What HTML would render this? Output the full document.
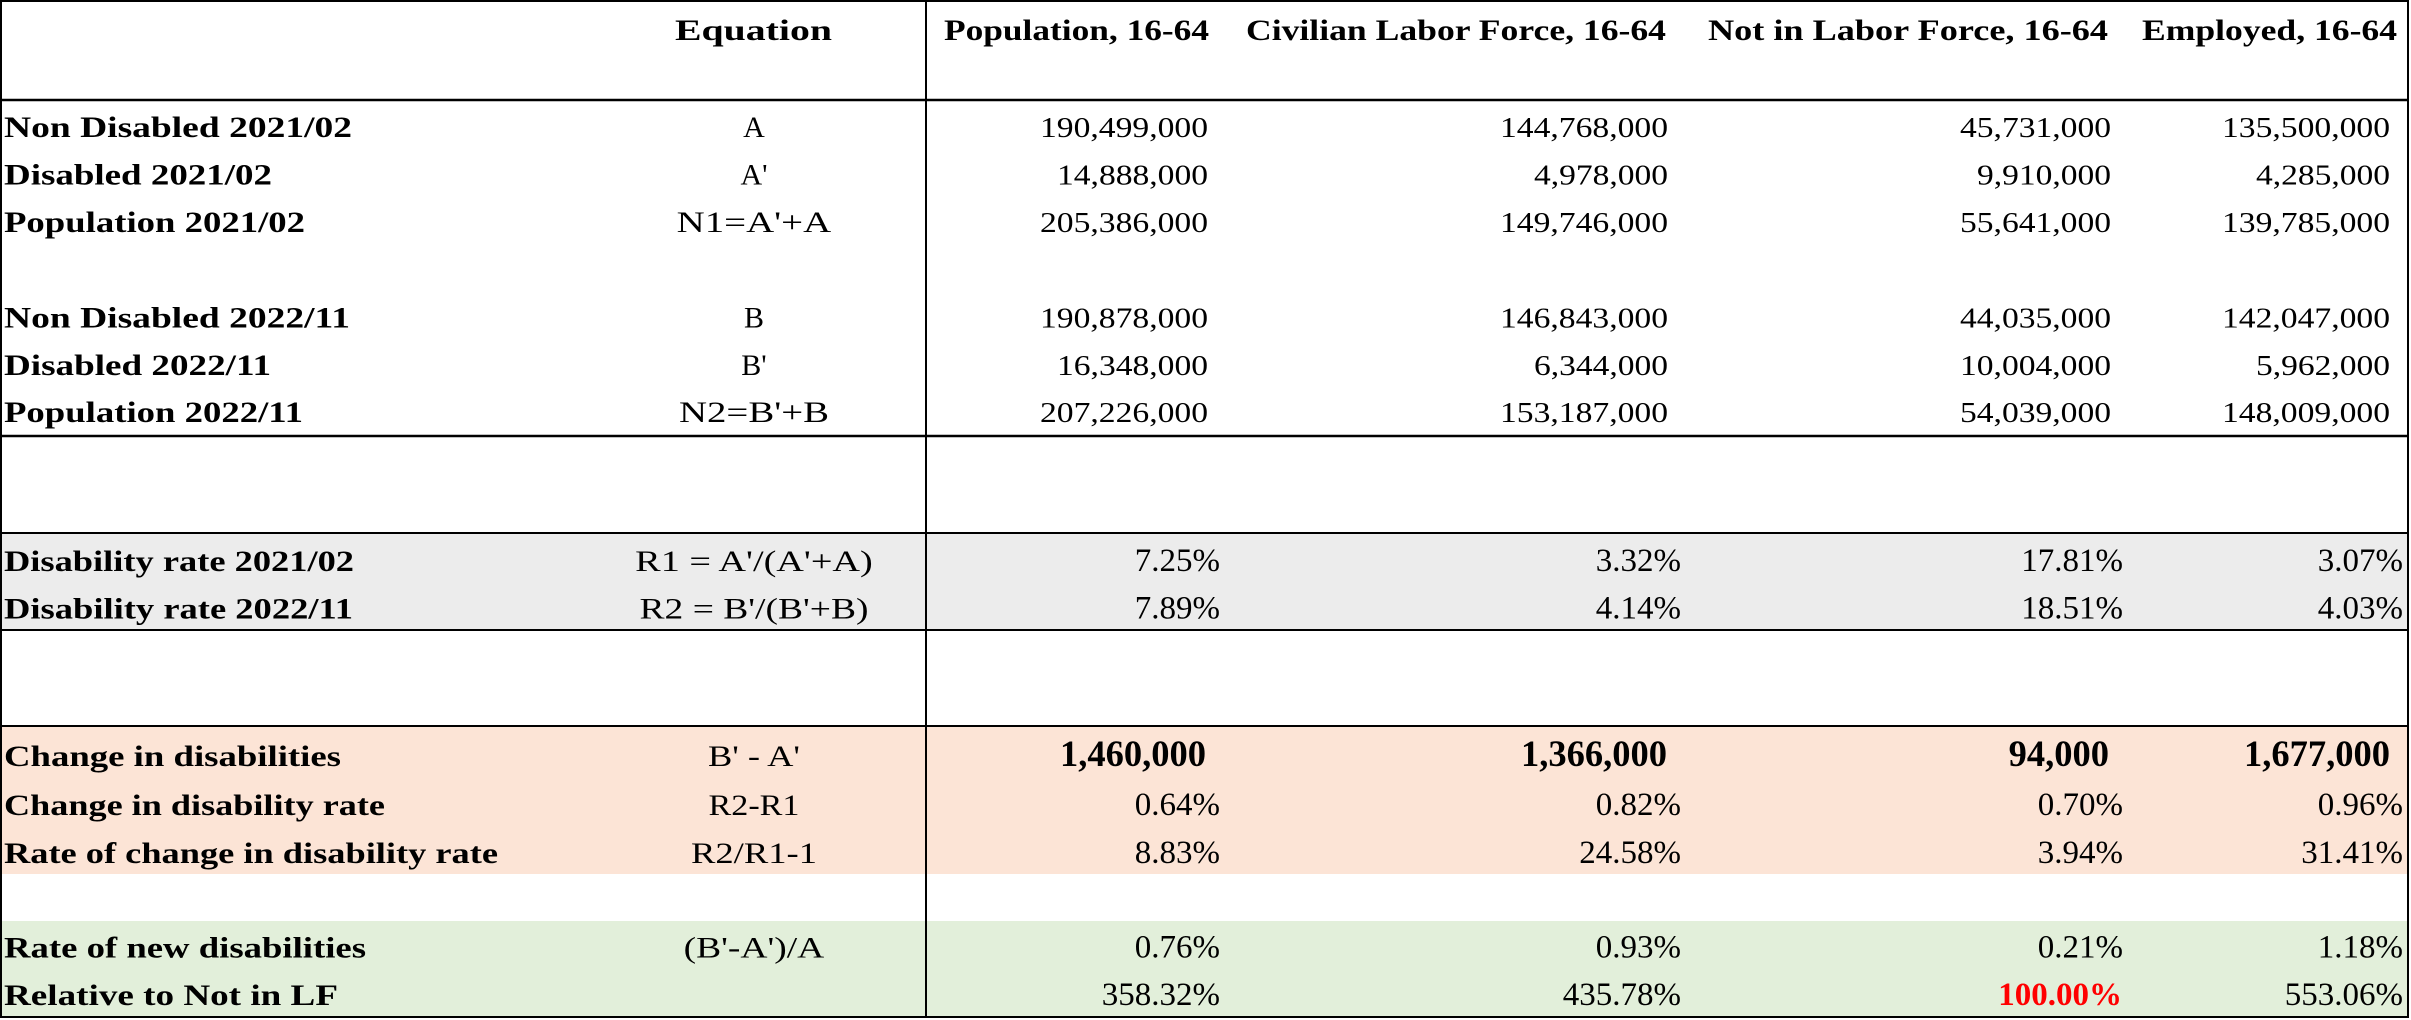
<!DOCTYPE html>
<html>
<head>
<meta charset="utf-8">
<style>
  html, body { margin: 0; padding: 0; background: #ffffff; }
  svg { display: block; }
  text { font-family: "Liberation Serif", serif; fill: #000; }
  .hd { font-weight: bold; font-size: 30px; }
  .lb { font-weight: bold; font-size: 30px; }
  .eq { font-size: 30px; }
  .nm { font-size: 29px; }
  .pc { font-size: 33px; }
  .bn { font-weight: bold; font-size: 36.5px; }
  .rd { font-weight: bold; font-size: 33px; fill: #ff0000; }
</style>
</head>
<body>
<svg width="2411" height="1020" viewBox="0 0 2411 1020" xmlns="http://www.w3.org/2000/svg">
  <rect x="0" y="0" width="2411" height="1020" fill="#ffffff"/>
  <!-- bands -->
  <rect x="0" y="533" width="2408" height="97" fill="#ECECEC"/>
  <rect x="0" y="726" width="2408" height="148" fill="#FCE4D6"/>
  <rect x="0" y="921" width="2408" height="96" fill="#E2EFDA"/>

  <!-- lines -->
  <g stroke="#000" fill="none">
    <rect x="1" y="1" width="2407" height="1016" stroke-width="2"/>
    <line x1="926" y1="0" x2="926" y2="1017" stroke-width="2"/>
    <line x1="0" y1="100" x2="2409" y2="100" stroke-width="2.5"/>
    <line x1="0" y1="436" x2="2409" y2="436" stroke-width="2.5"/>
    <line x1="0" y1="533" x2="2409" y2="533" stroke-width="2"/>
    <line x1="0" y1="630" x2="2409" y2="630" stroke-width="2"/>
    <line x1="0" y1="726" x2="2409" y2="726" stroke-width="2"/>
  </g>

  <!-- headers -->
  <text class="hd" x="675" y="40" textLength="157" lengthAdjust="spacingAndGlyphs">Equation</text>
  <text class="hd" x="944" y="40" textLength="265" lengthAdjust="spacingAndGlyphs">Population, 16-64</text>
  <text class="hd" x="1246" y="40" textLength="420" lengthAdjust="spacingAndGlyphs">Civilian Labor Force, 16-64</text>
  <text class="hd" x="1708" y="40" textLength="400" lengthAdjust="spacingAndGlyphs">Not in Labor Force, 16-64</text>
  <text class="hd" x="2142" y="40" textLength="255" lengthAdjust="spacingAndGlyphs">Employed, 16-64</text>

  <!-- labels -->
  <text class="lb" x="4" y="137" textLength="348" lengthAdjust="spacingAndGlyphs">Non Disabled 2021/02</text>
  <text class="lb" x="4" y="184.5" textLength="268" lengthAdjust="spacingAndGlyphs">Disabled 2021/02</text>
  <text class="lb" x="4" y="232" textLength="301" lengthAdjust="spacingAndGlyphs">Population 2021/02</text>
  <text class="lb" x="4" y="327.5" textLength="346" lengthAdjust="spacingAndGlyphs">Non Disabled 2022/11</text>
  <text class="lb" x="4" y="375" textLength="267" lengthAdjust="spacingAndGlyphs">Disabled 2022/11</text>
  <text class="lb" x="4" y="422" textLength="299" lengthAdjust="spacingAndGlyphs">Population 2022/11</text>
  <text class="lb" x="4" y="571" textLength="350" lengthAdjust="spacingAndGlyphs">Disability rate 2021/02</text>
  <text class="lb" x="4" y="618.5" textLength="349" lengthAdjust="spacingAndGlyphs">Disability rate 2022/11</text>
  <text class="lb" x="4" y="766" textLength="337" lengthAdjust="spacingAndGlyphs">Change in disabilities</text>
  <text class="lb" x="4" y="815" textLength="381" lengthAdjust="spacingAndGlyphs">Change in disability rate</text>
  <text class="lb" x="4" y="863" textLength="494" lengthAdjust="spacingAndGlyphs">Rate of change in disability rate</text>
  <text class="lb" x="4" y="957.5" textLength="362" lengthAdjust="spacingAndGlyphs">Rate of new disabilities</text>
  <text class="lb" x="4" y="1005" textLength="334" lengthAdjust="spacingAndGlyphs">Relative to Not in LF</text>

  <!-- equations -->
  <text class="eq" x="754" y="137" text-anchor="middle">A</text>
  <text class="eq" x="754" y="184.5" text-anchor="middle">A'</text>
  <text class="eq" x="676.7" y="232" textLength="154.5" lengthAdjust="spacingAndGlyphs">N1=A'+A</text>
  <text class="eq" x="754" y="327.5" text-anchor="middle">B</text>
  <text class="eq" x="754" y="375" text-anchor="middle">B'</text>
  <text class="eq" x="679" y="422" textLength="150" lengthAdjust="spacingAndGlyphs">N2=B'+B</text>
  <text class="eq" x="635.2" y="571" textLength="237.6" lengthAdjust="spacingAndGlyphs">R1 = A'/(A'+A)</text>
  <text class="eq" x="639.5" y="618.5" textLength="229" lengthAdjust="spacingAndGlyphs">R2 = B'/(B'+B)</text>
  <text class="eq" x="708" y="766" textLength="92" lengthAdjust="spacingAndGlyphs">B' - A'</text>
  <text class="eq" x="708.5" y="815" textLength="91" lengthAdjust="spacingAndGlyphs">R2-R1</text>
  <text class="eq" x="691" y="863" textLength="126" lengthAdjust="spacingAndGlyphs">R2/R1-1</text>
  <text class="eq" x="683.6" y="957.5" textLength="140.7" lengthAdjust="spacingAndGlyphs">(B'-A')/A</text>

  <!-- numbers, 2021/02 -->
  <text class="nm" x="1040" y="137" textLength="168" lengthAdjust="spacingAndGlyphs">190,499,000</text>
  <text class="nm" x="1500" y="137" textLength="168" lengthAdjust="spacingAndGlyphs">144,768,000</text>
  <text class="nm" x="1960" y="137" textLength="151" lengthAdjust="spacingAndGlyphs">45,731,000</text>
  <text class="nm" x="2222" y="137" textLength="168" lengthAdjust="spacingAndGlyphs">135,500,000</text>

  <text class="nm" x="1057" y="184.5" textLength="151" lengthAdjust="spacingAndGlyphs">14,888,000</text>
  <text class="nm" x="1534" y="184.5" textLength="134" lengthAdjust="spacingAndGlyphs">4,978,000</text>
  <text class="nm" x="1977" y="184.5" textLength="134" lengthAdjust="spacingAndGlyphs">9,910,000</text>
  <text class="nm" x="2256" y="184.5" textLength="134" lengthAdjust="spacingAndGlyphs">4,285,000</text>

  <text class="nm" x="1040" y="232" textLength="168" lengthAdjust="spacingAndGlyphs">205,386,000</text>
  <text class="nm" x="1500" y="232" textLength="168" lengthAdjust="spacingAndGlyphs">149,746,000</text>
  <text class="nm" x="1960" y="232" textLength="151" lengthAdjust="spacingAndGlyphs">55,641,000</text>
  <text class="nm" x="2222" y="232" textLength="168" lengthAdjust="spacingAndGlyphs">139,785,000</text>

  <!-- numbers, 2022/11 -->
  <text class="nm" x="1040" y="327.5" textLength="168" lengthAdjust="spacingAndGlyphs">190,878,000</text>
  <text class="nm" x="1500" y="327.5" textLength="168" lengthAdjust="spacingAndGlyphs">146,843,000</text>
  <text class="nm" x="1960" y="327.5" textLength="151" lengthAdjust="spacingAndGlyphs">44,035,000</text>
  <text class="nm" x="2222" y="327.5" textLength="168" lengthAdjust="spacingAndGlyphs">142,047,000</text>

  <text class="nm" x="1057" y="375" textLength="151" lengthAdjust="spacingAndGlyphs">16,348,000</text>
  <text class="nm" x="1534" y="375" textLength="134" lengthAdjust="spacingAndGlyphs">6,344,000</text>
  <text class="nm" x="1960" y="375" textLength="151" lengthAdjust="spacingAndGlyphs">10,004,000</text>
  <text class="nm" x="2256" y="375" textLength="134" lengthAdjust="spacingAndGlyphs">5,962,000</text>

  <text class="nm" x="1040" y="422" textLength="168" lengthAdjust="spacingAndGlyphs">207,226,000</text>
  <text class="nm" x="1500" y="422" textLength="168" lengthAdjust="spacingAndGlyphs">153,187,000</text>
  <text class="nm" x="1960" y="422" textLength="151" lengthAdjust="spacingAndGlyphs">54,039,000</text>
  <text class="nm" x="2222" y="422" textLength="168" lengthAdjust="spacingAndGlyphs">148,009,000</text>

  <!-- disability rates -->
  <g text-anchor="end">
    <text class="pc" x="1220" y="571">7.25%</text>
    <text class="pc" x="1681" y="571">3.32%</text>
    <text class="pc" x="2123" y="571">17.81%</text>
    <text class="pc" x="2403" y="571">3.07%</text>

    <text class="pc" x="1220" y="618.5">7.89%</text>
    <text class="pc" x="1681" y="618.5">4.14%</text>
    <text class="pc" x="2123" y="618.5">18.51%</text>
    <text class="pc" x="2403" y="618.5">4.03%</text>

    <!-- change -->
    <text class="bn" x="1206" y="766">1,460,000</text>
    <text class="bn" x="1667" y="766">1,366,000</text>
    <text class="bn" x="2109" y="766">94,000</text>
    <text class="bn" x="2390" y="766">1,677,000</text>

    <text class="pc" x="1220" y="815">0.64%</text>
    <text class="pc" x="1681" y="815">0.82%</text>
    <text class="pc" x="2123" y="815">0.70%</text>
    <text class="pc" x="2403" y="815">0.96%</text>

    <text class="pc" x="1220" y="863">8.83%</text>
    <text class="pc" x="1681" y="863">24.58%</text>
    <text class="pc" x="2123" y="863">3.94%</text>
    <text class="pc" x="2403" y="863">31.41%</text>

    <!-- new disabilities -->
    <text class="pc" x="1220" y="957.5">0.76%</text>
    <text class="pc" x="1681" y="957.5">0.93%</text>
    <text class="pc" x="2123" y="957.5">0.21%</text>
    <text class="pc" x="2403" y="957.5">1.18%</text>

    <text class="pc" x="1220" y="1005">358.32%</text>
    <text class="pc" x="1681" y="1005">435.78%</text>
    <text class="rd" x="2122" y="1005">100.00%</text>
    <text class="pc" x="2403" y="1005">553.06%</text>
  </g>
</svg>
</body>
</html>
